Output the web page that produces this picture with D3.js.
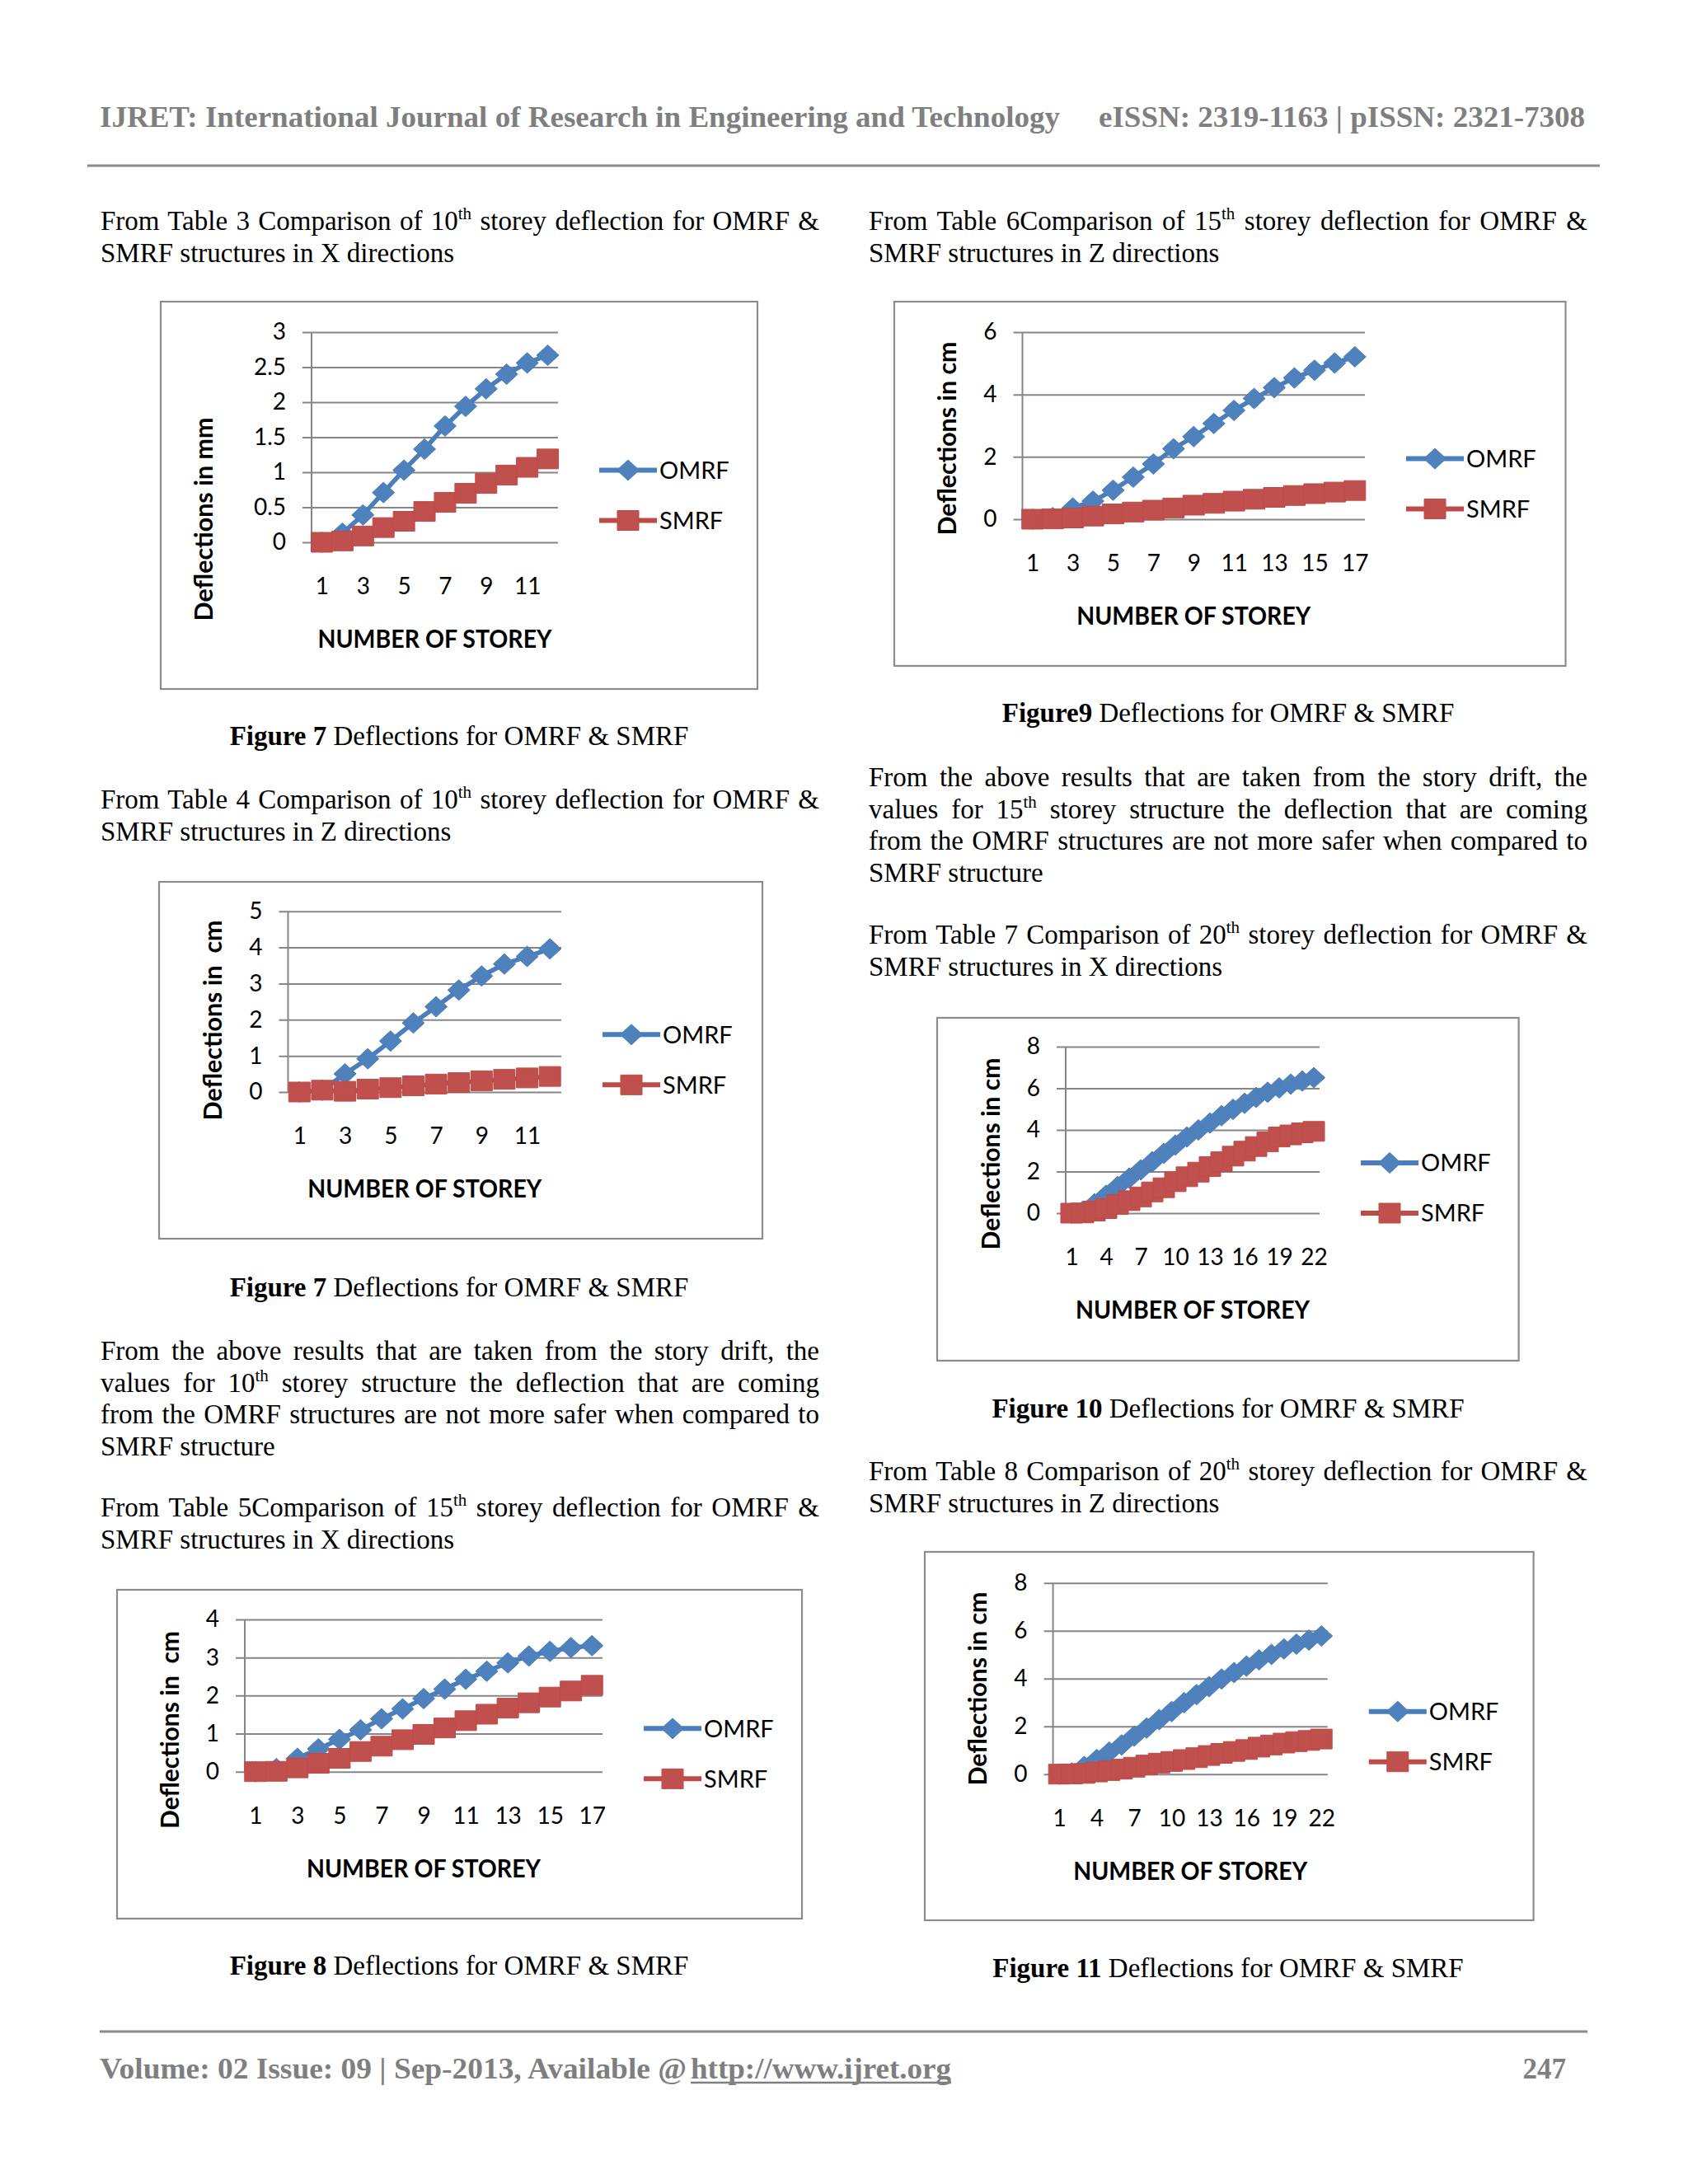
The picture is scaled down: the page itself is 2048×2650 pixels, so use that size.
<!DOCTYPE html>
<html>
<head>
<meta charset="utf-8">
<script src="https://cdn.jsdelivr.net/npm/d3@7"></script>
<style>
  body { margin: 0; background: #fff; }
</style>
</head>
<body>
<svg id="page" width="2048" height="2650"></svg>
<script>
// ---- data ----
const storeys12 = [1, 2, 3, 4, 5, 6, 7, 8, 9, 10, 11, 12];
const storeys17 = [1, 2, 3, 4, 5, 6, 7, 8, 9, 10, 11, 12, 13, 14, 15, 16, 17];
const storeys22 = [1, 2, 3, 4, 5, 6, 7, 8, 9, 10, 11, 12, 13, 14, 15, 16, 17, 18, 19, 20, 21, 22];

// Table 3: 10 storey, X direction (mm)
const table3Omrf = [0, 0.13, 0.39, 0.71, 1.03, 1.33, 1.66, 1.94, 2.19, 2.40, 2.56, 2.67];
const table3Smrf = [0, 0.02, 0.09, 0.21, 0.30, 0.44, 0.57, 0.70, 0.84, 0.96, 1.07, 1.19];
// Table 4: 10 storey, Z direction (cm)
const table4Omrf = [0, 0.05, 0.50, 0.92, 1.41, 1.91, 2.36, 2.82, 3.21, 3.54, 3.75, 3.96];
const table4Smrf = [0, 0.05, 0.02, 0.08, 0.12, 0.17, 0.22, 0.26, 0.31, 0.35, 0.39, 0.43];
// Table 5: 15 storey, X direction (cm)
const table5Omrf = [0, 0.08, 0.35, 0.60, 0.85, 1.10, 1.39, 1.65, 1.92, 2.17, 2.43, 2.64, 2.86, 3.04, 3.16, 3.26, 3.31];
const table5Smrf = [0, 0.01, 0.10, 0.22, 0.35, 0.53, 0.67, 0.84, 0.98, 1.15, 1.34, 1.51, 1.67, 1.81, 1.96, 2.12, 2.27];
// Table 6: 15 storey, Z direction (cm)
const table6Omrf = [0, 0.05, 0.36, 0.58, 0.93, 1.35, 1.77, 2.26, 2.65, 3.07, 3.49, 3.87, 4.22, 4.53, 4.78, 5.01, 5.21];
const table6Smrf = [0, 0.01, 0.04, 0.10, 0.17, 0.23, 0.29, 0.36, 0.45, 0.51, 0.58, 0.64, 0.70, 0.76, 0.82, 0.87, 0.92];
// Table 7: 20 storey, X direction (cm)
const table7Omrf = [0, 0.10, 0.45, 0.86, 1.28, 1.68, 2.08, 2.47, 2.87, 3.27, 3.66, 4.00, 4.33, 4.68, 4.99, 5.28, 5.56, 5.81, 6.02, 6.20, 6.35, 6.51];
const table7Smrf = [0, 0.01, 0.10, 0.22, 0.42, 0.60, 0.78, 1.02, 1.22, 1.51, 1.75, 1.97, 2.24, 2.47, 2.74, 2.98, 3.20, 3.43, 3.66, 3.76, 3.86, 3.93];
// Table 8: 20 storey, Z direction (cm)
const table8Omrf = [0, 0.05, 0.32, 0.61, 0.92, 1.22, 1.59, 1.93, 2.28, 2.62, 2.99, 3.33, 3.66, 3.98, 4.25, 4.52, 4.78, 5.01, 5.24, 5.44, 5.61, 5.78];
const table8Smrf = [0, 0.01, 0.03, 0.09, 0.15, 0.21, 0.29, 0.38, 0.46, 0.53, 0.61, 0.69, 0.78, 0.87, 0.95, 1.03, 1.13, 1.22, 1.30, 1.36, 1.41, 1.47];

const yTicks3 = [0, 0.5, 1, 1.5, 2, 2.5, 3];
const yTicks5 = [0, 1, 2, 3, 4, 5];
const yTicks4 = [0, 1, 2, 3, 4];
const yTicks6 = [0, 2, 4, 6];
const yTicks8 = [0, 2, 4, 6, 8];
const xTicks12 = [1, 3, 5, 7, 9, 11];
const xTicks17 = [1, 3, 5, 7, 9, 11, 13, 15, 17];
const xTicks22 = [1, 4, 7, 10, 13, 16, 19, 22];

const seriesNames = ['OMRF', 'SMRF'];

// ---- styles ----
const SERIF = '"Liberation Serif", "Times New Roman", serif';
const SANS = 'Lato, "Open Sans", sans-serif';
const BLUE_LINE = '#4a7ebb', BLUE_FILL = '#4f81bd';
const RED_LINE = '#be4b48', RED_FILL = '#c0504d';
const GRID = '#868686';

const svg = d3.select('#page');
svg.append('rect').attr('width', 2048).attr('height', 2650).attr('fill', '#fff');

// ---- page text helpers ----
function writeLine(x, y, str, o) {
  o = o || {};
  const t = svg.append('text')
    .attr('x', x).attr('y', y)
    .attr('font-family', SERIF)
    .attr('font-size', o.size || 33)
    .attr('fill', o.color || '#000');
  if (o.anchor) t.attr('text-anchor', o.anchor);
  // ^...^ marks a superscript, *...* marks bold
  const parts = str.split(/(\^[^^]*\^|\*[^*]*\*)/).filter(s => s.length);
  let raised = false;
  parts.forEach(p => {
    const s = t.append('tspan');
    if (p[0] === '^') {
      s.text(p.slice(1, -1)).attr('font-size', 21).attr('dy', -13);
      raised = true;
    } else {
      s.text(p.replace(/^\*|\*$/g, ''));
      if (p[0] === '*') s.attr('font-weight', 'bold');
      if (raised) { s.attr('dy', 13); raised = false; }
    }
  });
  if (o.width) {
    const nat = t.node().getComputedTextLength();
    const spaces = (str.match(/ +/g) || []).length;
    if (spaces) t.style('word-spacing', ((o.width - nat) / spaces) + 'px');
  }
  return t;
}

function paragraph(x, y, lines) {
  lines.forEach((l, i) => {
    writeLine(x, y + i * 38.7, l, { width: i < lines.length - 1 ? 872 : null });
  });
}

function greyText(x, y, str, len, anchor) {
  const t = svg.append('text').attr('x', x).attr('y', y)
    .attr('font-family', SERIF).attr('font-weight', 'bold').attr('font-size', 35)
    .attr('fill', '#7f7f7f').text(str);
  if (len) t.attr('textLength', len).attr('lengthAdjust', 'spacingAndGlyphs');
  if (anchor) t.attr('text-anchor', anchor);
  return t;
}

// header / footer
greyText(121, 154, 'IJRET: International Journal of Research in Engineering and Technology', 1165);
greyText(1333, 154, 'eISSN: 2319-1163 | pISSN: 2321-7308', 590);
svg.append('line').attr('x1', 106).attr('x2', 1941).attr('y1', 201).attr('y2', 201)
  .attr('stroke', '#8a8a8a').attr('stroke-width', 3);

svg.append('line').attr('x1', 121).attr('x2', 1926).attr('y1', 2465).attr('y2', 2465)
  .attr('stroke', '#8a8a8a').attr('stroke-width', 3);
greyText(121, 2522, 'Volume: 02 Issue: 09 | Sep-2013, Available @', 712);
greyText(838, 2522, 'http://www.ijret.org', 316);
svg.append('line').attr('x1', 838).attr('x2', 1154).attr('y1', 2527).attr('y2', 2527)
  .attr('stroke', '#7f7f7f').attr('stroke-width', 2.5);
greyText(1900, 2522, '247', null, 'end');

// body text
paragraph(122, 279, ['From Table 3 Comparison of 10^th^ storey deflection for OMRF &', 'SMRF structures in X directions']);
paragraph(122, 981, ['From Table 4 Comparison of 10^th^ storey deflection for OMRF &', 'SMRF structures in Z directions']);
paragraph(122, 1650, [
  'From the above results that are taken from the story drift, the',
  'values for 10^th^  storey structure the deflection that are coming',
  'from the OMRF structures are not more safer when compared to',
  'SMRF structure']);
paragraph(122, 1840, ['From Table 5Comparison of 15^th^ storey deflection for OMRF &', 'SMRF structures in X directions']);

paragraph(1054, 279, ['From Table 6Comparison of 15^th^ storey deflection for OMRF &', 'SMRF structures in Z directions']);
paragraph(1054, 954, [
  'From the above results that are taken from the story drift, the',
  'values for 15^th^ storey structure the deflection that are coming',
  'from the OMRF structures are not more safer when compared to',
  'SMRF structure']);
paragraph(1054, 1145, ['From Table 7 Comparison of 20^th^ storey deflection for OMRF &', 'SMRF structures in X directions']);
paragraph(1054, 1796, ['From Table 8 Comparison of 20^th^ storey deflection for OMRF &', 'SMRF structures in Z directions']);

// captions
writeLine(557, 904, '*Figure 7* Deflections for OMRF & SMRF', { anchor: 'middle' });
writeLine(557, 1573, '*Figure 7* Deflections for OMRF & SMRF', { anchor: 'middle' });
writeLine(557, 2396, '*Figure 8* Deflections for OMRF & SMRF', { anchor: 'middle' });
writeLine(1490, 876, '*Figure9* Deflections for OMRF & SMRF', { anchor: 'middle' });
writeLine(1490, 1720, '*Figure 10* Deflections for OMRF & SMRF', { anchor: 'middle' });
writeLine(1490, 2399, '*Figure 11* Deflections for OMRF & SMRF', { anchor: 'middle' });

// ---- charts ----
const diamond = 'M0,-12.5L13.5,0L0,12.5L-13.5,0Z';
const square = 'M-13,-12H13V12H-13Z';

function drawChart(c) {
  const g = svg.append('g');
  const [x0, yTop, x1, yBot] = c.plot;

  g.append('rect')
    .attr('x', c.box[0]).attr('y', c.box[1])
    .attr('width', c.box[2] - c.box[0]).attr('height', c.box[3] - c.box[1])
    .attr('fill', '#fff').attr('stroke', '#8c8c8c').attr('stroke-width', 2.2);

  const x = d3.scalePoint().domain(c.storeys).range([x0, x1]).padding(0.5);
  const y = d3.scaleLinear().domain([0, c.yTicks[c.yTicks.length - 1]]).range([yBot, yTop]);

  // gridlines + y labels (ticks drawn from the right edge, 11px past the axis)
  const yAxis = g.append('g')
    .attr('transform', `translate(${x1},0)`)
    .call(d3.axisLeft(y).tickValues(c.yTicks)
      .tickSizeInner(x1 - x0 + 11).tickSizeOuter(0).tickPadding(20)
      .tickFormat(d3.format('')));
  yAxis.select('.domain').remove();
  yAxis.selectAll('line').attr('stroke', GRID).attr('stroke-width', 2);
  yAxis.selectAll('text').attr('font-family', SANS).attr('font-size', 28).attr('fill', '#000');

  g.append('line').attr('x1', x0).attr('x2', x0).attr('y1', yTop).attr('y2', yBot)
    .attr('stroke', GRID).attr('stroke-width', 2);

  const xAxis = g.append('g')
    .attr('transform', `translate(0,${yBot})`)
    .call(d3.axisBottom(x).tickValues(c.xTicks).tickSize(0));
  xAxis.select('.domain').remove();
  xAxis.selectAll('text').attr('y', 63).attr('dy', 0)
    .attr('font-family', SANS).attr('font-size', 28).attr('fill', '#000');

  // titles
  g.append('text')
    .attr('x', (x0 + x1) / 2).attr('y', yBot + 128)
    .attr('text-anchor', 'middle').attr('font-family', SANS).attr('font-weight', 'bold')
    .attr('font-size', 31).attr('textLength', 284).attr('lengthAdjust', 'spacingAndGlyphs')
    .text('NUMBER OF STOREY');
  g.append('text')
    .attr('transform', `translate(${c.yTitle[0]},${c.yTitle[1]}) rotate(-90)`)
    .attr('text-anchor', 'middle').attr('dominant-baseline', 'central')
    .attr('font-family', SANS).attr('font-weight', 'bold').attr('font-size', 30)
    .attr('textLength', c.yTitle[2]).attr('lengthAdjust', 'spacingAndGlyphs')
    .text(c.yTitleText);

  const series = [
    { name: seriesNames[0], values: c.omrf, line: BLUE_LINE, fill: BLUE_FILL, shape: diamond },
    { name: seriesNames[1], values: c.smrf, line: RED_LINE, fill: RED_FILL, shape: square }
  ];

  const line = d3.line().x((d, i) => x(c.storeys[i])).y(d => y(d));
  series.forEach(s => {
    g.append('path').attr('d', line(s.values)).attr('fill', 'none')
      .attr('stroke', s.line).attr('stroke-width', 5.5).attr('stroke-linejoin', 'round');
    g.selectAll(null).data(s.values).enter().append('path')
      .attr('d', s.shape)
      .attr('transform', (d, i) => `translate(${x(c.storeys[i])},${y(d)})`)
      .attr('fill', s.fill).attr('stroke', s.line).attr('stroke-width', 1);
  });

  // legend
  const lx0 = x1 + 50, lx1 = lx0 + 70, midY = (yTop + yBot) / 2;
  series.forEach((s, i) => {
    const ly = midY + 40 + i * 61;
    g.append('line').attr('x1', lx0).attr('x2', lx1).attr('y1', ly).attr('y2', ly)
      .attr('stroke', s.line).attr('stroke-width', 6);
    g.append('path').attr('d', s.shape).attr('transform', `translate(${(lx0 + lx1) / 2},${ly})`)
      .attr('fill', s.fill).attr('stroke', s.line).attr('stroke-width', 1);
    g.append('text').attr('x', lx1 + 3).attr('y', ly).attr('dy', '0.36em')
      .attr('font-family', SANS).attr('font-size', 29).text(s.name);
  });
}

const charts = [
  { box: [195, 366, 919, 836], plot: [378, 403, 677, 658], yTitle: [246, 630, 247], yTitleText: 'Deflections in mm',
    storeys: storeys12, omrf: table3Omrf, smrf: table3Smrf, yTicks: yTicks3, xTicks: xTicks12 },
  { box: [193, 1070, 925, 1503], plot: [349.5, 1105.7, 681, 1325], yTitle: [257, 1238, 243], yTitleText: 'Deflections in\u00a0\u00a0cm',
    storeys: storeys12, omrf: table4Omrf, smrf: table4Smrf, yTicks: yTicks5, xTicks: xTicks12 },
  { box: [142, 1929, 973, 2328], plot: [297, 1965, 731, 2149.7], yTitle: [205, 2099, 240], yTitleText: 'Deflections in\u00a0\u00a0cm',
    storeys: storeys17, omrf: table5Omrf, smrf: table5Smrf, yTicks: yTicks4, xTicks: xTicks17 },
  { box: [1085, 366, 1899.5, 808], plot: [1240.5, 403, 1656, 630], yTitle: [1148, 532, 235], yTitleText: 'Deflections in cm',
    storeys: storeys17, omrf: table6Omrf, smrf: table6Smrf, yTicks: yTicks6, xTicks: xTicks17 },
  { box: [1137, 1235, 1842.6, 1651], plot: [1293, 1270, 1601, 1472], yTitle: [1200.6, 1400, 233], yTitleText: 'Deflections in cm',
    storeys: storeys22, omrf: table7Omrf, smrf: table7Smrf, yTicks: yTicks8, xTicks: xTicks22 },
  { box: [1122, 1883, 1860.6, 2330], plot: [1277.6, 1920.7, 1610.8, 2152.7], yTitle: [1185, 2049, 235], yTitleText: 'Deflections in cm',
    storeys: storeys22, omrf: table8Omrf, smrf: table8Smrf, yTicks: yTicks8, xTicks: xTicks22 }
];

charts.forEach(drawChart);
</script>
</body>
</html>
